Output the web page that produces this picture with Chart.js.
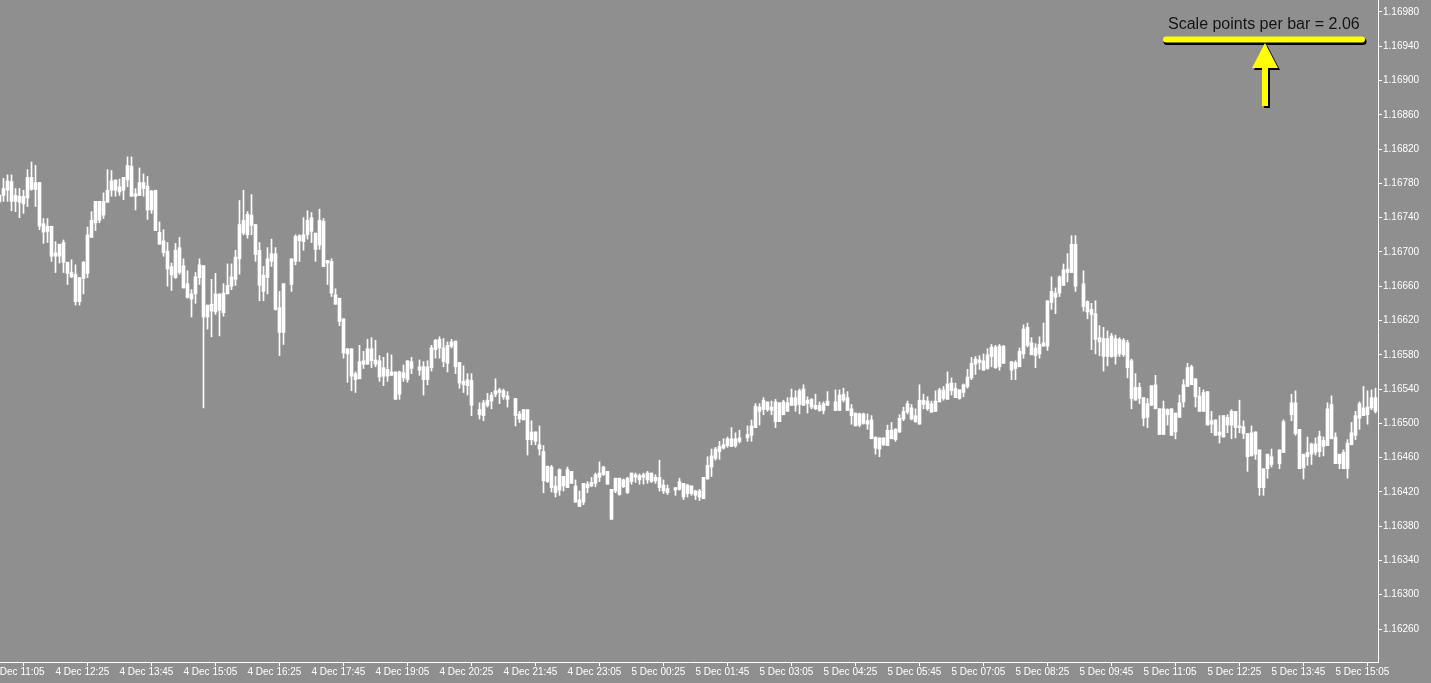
<!DOCTYPE html>
<html>
<head>
<meta charset="utf-8">
<title>EURUSD M5</title>
<script src="https://cdn.jsdelivr.net/npm/chart.js@4.4.1/dist/chart.umd.min.js"></script>
<style>
  html, body { margin: 0; padding: 0; background: #8f8f8f; overflow: hidden; }
  #wrap { width: 1431px; height: 683px; }
</style>
</head>
<body>
<div id="wrap"><canvas id="priceChart" width="1431" height="683"></canvas></div>
<script>
// M5 bars (null = no bar visible in that slot)
const opens = [
  1.16766,1.16766,1.16772,1.16782,1.16766,1.16765,1.16765,1.16763,1.16773,1.16781,
  1.16781,1.16733,1.16730,1.16730,1.16699,1.16695,1.16711,1.16688,1.16676,1.16674,
  1.16670,1.16669,1.16675,1.16717,1.16734,1.16737,1.16743,1.16758,1.16772,1.16772,
  1.16776,1.16772,1.16784,1.16800,1.16768,1.16766,1.16774,1.16777,1.16771,1.16772,
  1.16723,1.16713,1.16701,1.16683,1.16670,1.16676,1.16684,1.16663,1.16651,1.16651,
  1.16670,1.16684,1.16638,1.16631,1.16630,1.16632,1.16652,1.16651,1.16660,1.16668,
  1.16692,1.16722,1.16720,1.16731,1.16732,1.16702,1.16673,1.16670,1.16689,1.16698,
  1.16635,1.16606,null,1.16662,1.16689,1.16713,1.16712,1.16720,1.16724,1.16722,
  1.16708,1.16736,1.16690,1.16689,1.16650,1.16646,1.16622,1.16587,1.16587,1.16558,
  1.16552,1.16569,1.16569,1.16573,1.16574,1.16573,1.16565,1.16563,1.16560,1.16560,
  1.16534,1.16553,1.16551,1.16564,null,1.16566,1.16566,1.16566,1.16565,1.16586,
  1.16588,1.16588,1.16570,1.16590,1.16596,1.16571,1.16549,1.16544,1.16550,null,
  1.16516,1.16509,1.16521,1.16526,1.16534,1.16536,1.16538,1.16532,null,1.16529,
  1.16511,1.16504,1.16516,1.16490,1.16490,1.16475,1.16467,1.16450,1.16449,1.16427,
  1.16422,1.16438,1.16425,1.16430,1.16427,1.16411,1.16408,1.16425,1.16427,1.16430,
  1.16437,1.16440,1.16444,1.16423,1.16421,1.16436,1.16426,1.16436,1.16432,1.16437,
  1.16439,1.16437,1.16442,1.16442,1.16437,1.16437,1.16428,1.16424,null,1.16422,
  1.16423,1.16430,1.16418,1.16427,1.16421,1.16421,1.16412,1.16435,1.16449,1.16459,
  1.16467,1.16471,1.16474,1.16482,1.16474,1.16479,null,1.16483,1.16486,1.16495,
  1.16514,1.16516,1.16525,1.16519,1.16525,1.16524,1.16510,1.16514,1.16521,1.16530,
  1.16522,1.16521,1.16527,1.16528,1.16521,1.16521,1.16515,1.16521,null,1.16525,
  1.16515,1.16527,1.16530,1.16517,1.16512,1.16511,1.16500,1.16503,1.16504,1.16484,
  1.16483,1.16475,1.16474,1.16482,1.16493,1.16490,1.16505,1.16513,1.16518,1.16509,
  1.16499,1.16522,1.16526,1.16523,1.16514,1.16525,1.16529,1.16528,1.16538,1.16541,
  1.16539,1.16536,1.16543,1.16553,1.16569,1.16571,1.16573,1.16564,1.16578,1.16589,
  1.16566,1.16570,null,1.16572,1.16564,1.16566,1.16581,1.16591,1.16594,1.16588,
  1.16581,1.16590,1.16590,1.16641,1.16647,1.16652,1.16661,1.16676,1.16676,1.16709,
  null,1.16663,1.16642,1.16633,1.16628,1.16600,1.16599,1.16599,1.16578,1.16599,
  1.16581,1.16597,1.16594,1.16573,1.16542,1.16529,1.16530,1.16523,1.16521,1.16545,
  1.16517,1.16487,1.16510,1.16517,1.16512,1.16507,1.16525,1.16543,1.16545,1.16552,
  1.16532,1.16514,1.16537,1.16503,1.16504,1.16490,1.16484,1.16498,1.16498,1.16514,
  1.16497,1.16496,1.16488,1.16462,1.16464,1.16469,1.16447,1.16447,1.16452,null,
  1.16453,1.16466,null,1.16510,1.16524,1.16493,1.16464,1.16461,1.16464,1.16466,
  1.16467,1.16473,1.16474,1.16482,1.16484,1.16464,1.16466,1.16447,1.16475,1.16486,
  1.16506,1.16518,1.16510,1.16518,1.16530
];
const highs = [
  1.16767,1.16786,1.16790,1.16790,1.16774,1.16774,1.16772,1.16796,1.16805,1.16801,
  1.16781,1.16739,1.16739,1.16730,1.16712,1.16709,1.16714,1.16688,1.16691,1.16685,
  1.16670,1.16689,1.16729,1.16747,1.16759,1.16759,1.16769,1.16796,1.16795,1.16784,
  1.16785,1.16787,1.16811,1.16811,1.16774,1.16798,1.16791,1.16788,1.16772,1.16772,
  1.16735,1.16726,1.16711,1.16687,1.16710,1.16717,1.16692,1.16678,1.16656,1.16676,
  1.16692,1.16684,1.16638,1.16668,1.16675,1.16651,1.16663,1.16686,1.16686,1.16702,
  1.16760,1.16772,1.16747,1.16767,1.16732,1.16711,1.16683,1.16705,1.16715,1.16705,
  1.16654,1.16663,null,1.16692,1.16720,1.16720,1.16740,1.16748,1.16746,1.16722,
  1.16750,1.16739,1.16690,1.16692,1.16657,1.16646,1.16622,1.16587,1.16587,1.16560,
  1.16591,1.16584,1.16598,1.16600,1.16597,1.16579,1.16577,1.16582,1.16580,1.16560,
  1.16561,1.16568,1.16573,1.16577,null,1.16574,1.16572,1.16573,1.16591,1.16598,
  1.16601,1.16599,1.16595,1.16598,1.16596,1.16571,1.16567,1.16558,1.16558,null,
  1.16524,1.16527,1.16535,1.16536,1.16552,1.16541,1.16540,1.16537,null,1.16529,
  1.16514,1.16516,1.16516,1.16503,1.16490,1.16497,1.16474,1.16450,1.16451,1.16438,
  1.16447,1.16438,1.16449,1.16444,1.16434,1.16421,1.16430,1.16432,1.16437,1.16442,
  1.16455,1.16450,1.16444,1.16423,1.16436,1.16436,1.16435,1.16437,1.16442,1.16442,
  1.16441,1.16442,1.16444,1.16442,1.16440,1.16457,1.16434,1.16428,null,1.16425,
  1.16436,1.16430,1.16429,1.16427,1.16422,1.16423,1.16437,1.16461,1.16470,1.16472,
  1.16479,1.16482,1.16484,1.16495,1.16489,1.16492,null,1.16497,1.16504,1.16523,
  1.16523,1.16530,1.16525,1.16526,1.16528,1.16524,1.16527,1.16530,1.16540,1.16538,
  1.16540,1.16545,1.16531,1.16529,1.16534,1.16525,1.16525,1.16537,null,1.16539,
  1.16539,1.16541,1.16537,1.16522,1.16512,1.16512,1.16512,1.16511,1.16509,1.16484,
  1.16483,1.16483,1.16498,1.16501,1.16494,1.16510,1.16519,1.16526,1.16522,1.16517,
  1.16545,1.16534,1.16531,1.16526,1.16538,1.16541,1.16543,1.16560,1.16553,1.16547,
  1.16539,1.16546,1.16563,1.16577,1.16578,1.16579,1.16581,1.16587,1.16592,1.16591,
  1.16592,1.16591,null,1.16572,1.16573,1.16588,1.16615,1.16617,1.16600,1.16593,
  1.16601,1.16617,1.16643,1.16671,1.16658,1.16672,1.16686,1.16698,1.16719,1.16719,
  null,1.16678,1.16643,1.16640,1.16643,1.16614,1.16612,1.16608,1.16605,1.16603,
  1.16600,1.16599,1.16597,1.16575,1.16558,1.16547,1.16530,1.16529,1.16544,1.16556,
  1.16517,1.16526,1.16517,1.16517,1.16512,1.16533,1.16551,1.16570,1.16568,1.16552,
  1.16542,1.16539,1.16537,1.16514,1.16504,1.16509,1.16509,1.16510,1.16516,1.16514,
  1.16527,1.16503,1.16488,1.16497,1.16490,1.16469,1.16447,1.16464,1.16470,null,
  1.16469,1.16504,null,1.16534,1.16538,1.16493,1.16464,1.16484,1.16477,1.16483,
  1.16491,1.16484,1.16524,1.16532,1.16489,1.16464,1.16469,1.16481,1.16501,1.16514,
  1.16525,1.16543,1.16538,1.16539,1.16541
];
const lows = [
  1.16757,1.16759,1.16759,1.16748,1.16747,1.16740,1.16745,1.16753,1.16772,1.16753,
  1.16726,1.16710,1.16711,1.16689,1.16676,1.16687,1.16676,1.16662,1.16670,1.16638,
  1.16638,1.16651,1.16670,1.16717,1.16725,1.16734,1.16739,1.16758,1.16765,1.16765,
  1.16766,1.16761,1.16776,1.16765,1.16749,1.16766,1.16765,1.16738,1.16745,1.16725,
  1.16709,1.16695,1.16660,1.16655,1.16669,1.16674,1.16658,1.16646,1.16624,1.16640,
  1.16662,1.16518,1.16610,1.16601,1.16627,1.16602,1.16625,1.16651,1.16656,1.16661,
  1.16674,1.16720,1.16716,1.16720,1.16689,1.16643,1.16643,1.16651,1.16683,1.16632,
  1.16579,1.16592,null,1.16654,1.16685,1.16689,1.16702,1.16715,1.16711,1.16689,
  1.16703,1.16683,1.16662,1.16648,1.16639,1.16614,1.16576,1.16548,1.16538,1.16536,
  1.16552,1.16564,1.16569,1.16565,1.16566,1.16549,1.16544,1.16549,1.16556,1.16528,
  1.16528,1.16549,1.16548,1.16558,null,1.16556,1.16533,1.16545,1.16561,1.16576,
  1.16576,1.16566,1.16560,1.16588,1.16558,1.16541,1.16536,1.16533,1.16509,null,
  1.16505,1.16503,1.16519,1.16517,1.16531,1.16523,1.16528,1.16519,null,1.16497,
  1.16501,1.16504,1.16463,1.16475,1.16475,1.16463,1.16419,1.16431,1.16420,1.16414,
  1.16416,1.16421,1.16425,1.16430,1.16408,1.16403,1.16405,1.16419,1.16426,1.16426,
  1.16432,1.16439,1.16429,1.16388,1.16419,1.16416,1.16425,1.16418,1.16429,1.16431,
  1.16429,1.16429,1.16430,1.16431,1.16430,1.16421,1.16418,1.16417,null,1.16416,
  1.16422,1.16411,1.16414,1.16416,1.16411,1.16410,1.16412,1.16435,1.16438,1.16457,
  1.16458,1.16470,1.16472,1.16473,1.16472,1.16477,null,1.16479,1.16479,1.16495,
  1.16498,1.16510,1.16514,1.16510,1.16495,1.16502,1.16510,1.16514,1.16521,1.16514,
  1.16511,1.16521,1.16512,1.16517,1.16516,1.16514,1.16511,1.16521,null,1.16515,
  1.16515,1.16525,1.16515,1.16499,1.16497,1.16496,1.16499,1.16493,1.16482,1.16464,
  1.16461,1.16474,1.16474,1.16482,1.16479,1.16489,1.16503,1.16511,1.16504,1.16501,
  1.16499,1.16517,1.16515,1.16513,1.16514,1.16525,1.16527,1.16528,1.16533,1.16530,
  1.16528,1.16531,1.16541,1.16551,1.16557,1.16563,1.16562,1.16563,1.16566,1.16564,
  1.16562,1.16570,null,1.16551,1.16551,1.16566,1.16576,1.16589,1.16580,1.16565,
  1.16576,1.16590,1.16585,1.16633,1.16628,1.16648,1.16661,1.16665,1.16676,1.16654,
  null,1.16631,1.16622,1.16586,1.16581,1.16579,1.16561,1.16567,1.16577,1.16569,
  1.16578,1.16578,1.16553,1.16517,1.16527,1.16523,1.16497,1.16495,1.16521,1.16517,
  1.16487,1.16487,1.16498,1.16486,1.16482,1.16507,1.16519,1.16543,1.16545,1.16519,
  1.16514,1.16514,1.16498,1.16489,1.16486,1.16477,1.16484,1.16489,1.16482,1.16483,
  1.16489,1.16482,1.16444,1.16462,1.16458,1.16416,1.16416,1.16436,1.16449,null,
  1.16447,1.16466,null,1.16503,1.16486,1.16447,1.16435,1.16451,1.16452,1.16463,
  1.16461,1.16462,1.16474,1.16482,1.16453,1.16447,1.16447,1.16436,1.16475,1.16481,
  1.16493,1.16509,1.16499,1.16516,1.16512
];
const closes = [
  1.16759,1.16774,1.16783,1.16759,1.16759,1.16758,1.16756,1.16787,1.16787,1.16773,
  1.16730,1.16723,1.16724,1.16695,1.16695,1.16709,1.16688,1.16675,1.16671,1.16642,
  1.16642,1.16688,1.16720,1.16737,1.16759,1.16759,1.16759,1.16772,1.16783,1.16784,
  1.16770,1.16787,1.16801,1.16765,1.16765,1.16781,1.16781,1.16749,1.16749,1.16725,
  1.16709,1.16699,1.16680,1.16673,1.16702,1.16705,1.16658,1.16647,1.16645,1.16671,
  1.16685,1.16624,1.16624,1.16639,1.16651,1.16651,1.16629,1.16661,1.16671,1.16694,
  1.16732,1.16737,1.16744,1.16743,1.16697,1.16661,1.16654,1.16692,1.16698,1.16633,
  1.16606,1.16663,null,1.16692,1.16718,1.16719,1.16720,1.16737,1.16740,1.16703,
  1.16737,1.16683,1.16687,1.16652,1.16639,1.16619,1.16582,1.16581,1.16555,1.16551,
  1.16572,1.16573,1.16587,1.16587,1.16569,1.16554,1.16555,1.16555,1.16556,1.16528,
  1.16560,1.16559,1.16573,1.16572,null,1.16562,1.16551,1.16551,1.16588,1.16597,
  1.16598,1.16572,1.16591,1.16595,1.16566,1.16547,1.16545,1.16551,1.16521,null,
  1.16510,1.16524,1.16527,1.16533,1.16538,1.16539,1.16531,1.16528,null,1.16509,
  1.16505,1.16516,1.16481,1.16481,1.16479,1.16470,1.16433,1.16432,1.16425,1.16419,
  1.16446,1.16427,1.16446,1.16444,1.16408,1.16403,1.16430,1.16429,1.16431,1.16440,
  1.16442,1.16449,1.16429,1.16388,1.16436,1.16417,1.16434,1.16419,1.16442,1.16440,
  1.16434,1.16440,1.16434,1.16432,1.16433,1.16425,1.16421,1.16419,null,1.16425,
  1.16432,1.16414,1.16428,1.16418,1.16416,1.16414,1.16437,1.16451,1.16462,1.16470,
  1.16473,1.16475,1.16482,1.16473,1.16482,1.16483,null,1.16487,1.16497,1.16520,
  1.16519,1.16527,1.16516,1.16515,1.16502,1.16502,1.16525,1.16524,1.16530,1.16521,
  1.16538,1.16540,1.16523,1.16519,1.16517,1.16515,1.16523,1.16526,null,1.16515,
  1.16533,1.16534,1.16515,1.16509,1.16497,1.16498,1.16511,1.16499,1.16482,1.16471,
  1.16470,1.16483,1.16492,1.16492,1.16481,1.16506,1.16514,1.16523,1.16505,1.16502,
  1.16527,1.16527,1.16517,1.16513,1.16526,1.16539,1.16539,1.16546,1.16547,1.16530,
  1.16529,1.16545,1.16554,1.16570,1.16575,1.16574,1.16562,1.16580,1.16589,1.16565,
  1.16590,1.16590,null,1.16562,1.16571,1.16584,1.16610,1.16612,1.16580,1.16579,
  1.16592,1.16594,1.16643,1.16654,1.16652,1.16671,1.16679,1.16680,1.16709,1.16660,
  null,1.16636,1.16630,1.16627,1.16598,1.16595,1.16578,1.16578,1.16602,1.16578,
  1.16598,1.16580,1.16565,1.16529,1.16527,1.16542,1.16506,1.16507,1.16544,1.16517,
  1.16487,1.16517,1.16516,1.16486,1.16490,1.16524,1.16545,1.16565,1.16566,1.16531,
  1.16514,1.16536,1.16498,1.16499,1.16486,1.16486,1.16509,1.16507,1.16514,1.16495,
  1.16495,1.16488,1.16461,1.16489,1.16490,1.16425,1.16425,1.16464,1.16461,null,
  1.16469,1.16502,null,1.16524,1.16488,1.16447,1.16448,1.16466,1.16476,1.16476,
  1.16485,1.16480,1.16517,1.16522,1.16453,1.16453,1.16447,1.16477,1.16489,1.16509,
  1.16523,1.16509,1.16519,1.16530,1.16514
];

const priceTicks = [
  1.16260, 1.16300, 1.16340, 1.16380, 1.16420, 1.16460, 1.16500, 1.16540, 1.16580, 1.16620,
  1.16660, 1.16700, 1.16740, 1.16780, 1.16820, 1.16860, 1.16900, 1.16940, 1.16980
];
// bar index that carries each time label (one label every 16 bars)
const timeTickBars = [-2, 14, 30, 46, 62, 78, 94, 110, 126, 142, 158,
                      174, 190, 206, 222, 238, 254, 270, 286, 302, 318, 334];
const timeTickLabels = [
  "4 Dec 11:05", "4 Dec 12:25", "4 Dec 13:45", "4 Dec 15:05", "4 Dec 16:25", "4 Dec 17:45",
  "4 Dec 19:05", "4 Dec 20:25", "4 Dec 21:45", "4 Dec 23:05", "5 Dec 00:25", "5 Dec 01:45",
  "5 Dec 03:05", "5 Dec 04:25", "5 Dec 05:45", "5 Dec 07:05", "5 Dec 08:25", "5 Dec 09:45",
  "5 Dec 11:05", "5 Dec 12:25", "5 Dec 13:45", "5 Dec 15:05"
];
const noteText = "Scale points per bar = 2.06";

const FONT = '"Liberation Sans", Arial, sans-serif';
const FG = '#ffffff';

// wicks and bodies as floating bars
const wicks = [];
const bodies = [];
for (let i = 0; i < opens.length; i++) {
  if (opens[i] === null) continue;
  wicks.push({ x: i, y: [lows[i], highs[i]] });
  bodies.push({ x: i, y: [opens[i], closes[i]] });
}

// yellow marker with the label, top right corner
const scaleNote = {
  id: 'scaleNote',
  afterDatasetsDraw(chart) {
    const ctx = chart.ctx;
    const r = chart.chartArea.right;
    const ax = r - 113;
    ctx.save();
    ctx.fillStyle = '#151515';
    ctx.font = '16px ' + FONT;
    ctx.textBaseline = 'alphabetic';
    ctx.textAlign = 'left';
    ctx.fillText(noteText, r - 210, 29);

    ctx.lineCap = 'round';
    ctx.strokeStyle = '#000000';
    ctx.lineWidth = 7;
    ctx.beginPath();
    ctx.moveTo(r - 211, 41.5);
    ctx.lineTo(r - 15, 41.5);
    ctx.stroke();
    ctx.strokeStyle = '#ffff00';
    ctx.lineWidth = 6;
    ctx.beginPath();
    ctx.moveTo(r - 212, 39.5);
    ctx.lineTo(r - 16, 39.5);
    ctx.stroke();

    function arrow(dx, dy, colour) {
      ctx.fillStyle = colour;
      ctx.beginPath();
      ctx.moveTo(ax + dx, 43 + dy);
      ctx.lineTo(ax + 13 + dx, 68 + dy);
      ctx.lineTo(ax - 13 + dx, 68 + dy);
      ctx.closePath();
      ctx.fill();
      ctx.fillRect(ax - 3 + dx, 67 + dy, 6, 39);
    }
    arrow(2, 2, '#000000');
    arrow(0, 0, '#ffff00');
    ctx.restore();
  }
};

new Chart(document.getElementById('priceChart'), {
  type: 'bar',
  data: {
    datasets: [
      { data: wicks, barThickness: 1, backgroundColor: FG, borderWidth: 0, grouped: false },
      { data: bodies, barThickness: 3, minBarLength: 1, backgroundColor: FG, borderWidth: 0, grouped: false }
    ]
  },
  options: {
    responsive: false,
    animation: false,
    devicePixelRatio: 1,
    layout: { padding: 0 },
    plugins: { legend: { display: false }, tooltip: { enabled: false } },
    scales: {
      x: {
        type: 'linear',
        min: 0.125,
        max: 344.625,
        offset: false,
        grid: { drawOnChartArea: false, color: FG, tickLength: 4 },
        border: { color: FG },
        ticks: {
          autoSkip: false, maxRotation: 0, minRotation: 0, align: 'start',
          padding: 0, labelOffset: 0, color: FG, font: { family: FONT, size: 10 },
          callback: (value, index) => timeTickLabels[index]
        },
        afterBuildTicks: scale => { scale.ticks = timeTickBars.map(v => ({ value: v })); },
        afterFit: scale => {
          scale.height = 21;
          scale.paddingLeft = 0;
          scale.paddingRight = 0;
        }
      },
      y: {
        position: 'right',
        min: 1.162215,
        max: 1.16994,
        grid: { drawOnChartArea: false, color: FG, tickLength: 4 },
        border: { color: FG },
        ticks: {
          padding: 1, color: FG, font: { family: FONT, size: 10 },
          callback: value => value.toFixed(5)
        },
        afterBuildTicks: scale => { scale.ticks = priceTicks.map(v => ({ value: v })); },
        afterFit: scale => {
          scale.width = 53;
          scale.paddingTop = 0;
          scale.paddingBottom = 0;
        }
      }
    }
  },
  plugins: [scaleNote]
});
</script>
</body>
</html>
